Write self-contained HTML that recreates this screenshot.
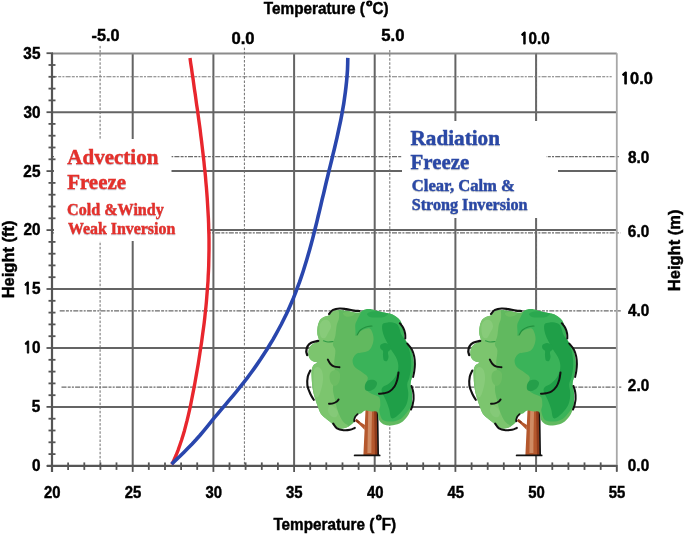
<!DOCTYPE html>
<html><head><meta charset="utf-8"><style>
html,body{margin:0;padding:0;background:#fff;}
body{width:685px;height:534px;overflow:hidden;}
svg{display:block;}
.g{stroke:#646464;stroke-width:2;}
.gt{stroke:#8c8c8c;stroke-width:1.8;}
.d{stroke:#6a6a6a;stroke-width:1.2;stroke-dasharray:5 1.2 3 1.2 2 1.2;}
.d10{stroke:#7a7a7a;stroke-width:1.1;}
.dv{stroke:#6e6e6e;stroke-width:1.0;stroke-dasharray:2.5 1.6;}
.ax{stroke:#555;stroke-width:2.2;}
.axr{stroke:#a8a8a8;stroke-width:1.8;}
.tk{stroke:#555;stroke-width:1.8;}
.one{font-family:NanumGothic,sans-serif !important;stroke-width:0.85px !important;}
.sup{stroke-width:0.95px !important;}
.lb{font-family:"Liberation Sans",Arial,sans-serif;font-weight:bold;fill:#000;stroke:#000;stroke-width:0.45px;}
.ann{font-family:"Liberation Serif","Times New Roman",serif;font-weight:bold;stroke-width:0.4px;}
.red{fill:#e5302b;stroke:#e5302b;filter:drop-shadow(0.8px 1px 0.7px rgba(90,120,150,0.35));}
.blue{fill:#2a48a6;stroke:#2a48a6;filter:drop-shadow(0.8px 1px 0.7px rgba(120,120,100,0.3));}
</style></head><body>
<svg width="685" height="534" viewBox="0 0 685 534">
<rect width="685" height="534" fill="#fff"/>
<line x1="132.7" y1="53.2" x2="132.7" y2="465.9" class="g"/>
<line x1="213.4" y1="53.2" x2="213.4" y2="465.9" class="g"/>
<line x1="294.1" y1="53.2" x2="294.1" y2="465.9" class="g"/>
<line x1="374.7" y1="53.2" x2="374.7" y2="465.9" class="g"/>
<line x1="455.4" y1="53.2" x2="455.4" y2="465.9" class="g"/>
<line x1="536.1" y1="53.2" x2="536.1" y2="465.9" class="g"/>
<line x1="52.0" y1="406.9" x2="616.8" y2="406.9" class="g"/>
<line x1="52.0" y1="348.0" x2="616.8" y2="348.0" class="g"/>
<line x1="52.0" y1="289.0" x2="616.8" y2="289.0" class="g"/>
<line x1="52.0" y1="230.1" x2="616.8" y2="230.1" class="g"/>
<line x1="52.0" y1="171.1" x2="616.8" y2="171.1" class="g"/>
<line x1="52.0" y1="112.2" x2="616.8" y2="112.2" class="g"/>
<line x1="52.0" y1="53.5" x2="616.8" y2="53.5" class="gt"/>
<line x1="100.1" y1="45.9" x2="100.1" y2="465.9" class="dv"/>
<line x1="244.4" y1="47.7" x2="244.4" y2="465.9" class="dv"/>
<line x1="389.8" y1="50.0" x2="389.8" y2="465.9" class="dv"/>
<line x1="536.2" y1="53.2" x2="536.2" y2="465.9" class="dv"/>
<line x1="61.5" y1="387.1" x2="621.3" y2="387.1" class="d"/>
<line x1="59.7" y1="310.8" x2="620.8" y2="310.8" class="d"/>
<line x1="52.0" y1="232.8" x2="620.3" y2="232.8" class="d"/>
<line x1="52.0" y1="156.6" x2="619.6" y2="156.6" class="d"/>
<line x1="52.0" y1="76.8" x2="611.7" y2="76.8" class="d d10"/>
<rect x="54" y="139" width="117.5" height="33" fill="#fff"/>
<rect x="54" y="172" width="155" height="69" fill="#fff"/>
<rect x="402" y="121" width="144.5" height="45" fill="#fff"/>
<rect x="402" y="166" width="156" height="52" fill="#fff"/>
<line x1="52.0" y1="53.2" x2="52.0" y2="471.9" class="ax"/>
<line x1="47.0" y1="465.9" x2="616.8" y2="465.9" class="ax"/>
<line x1="616.8" y1="53.2" x2="616.8" y2="470.9" class="axr"/>
<line x1="46.5" y1="465.9" x2="53.0" y2="465.9" class="tk"/>
<line x1="48.5" y1="454.1" x2="55.5" y2="454.1" class="tk"/>
<line x1="48.5" y1="442.3" x2="55.5" y2="442.3" class="tk"/>
<line x1="48.5" y1="430.5" x2="55.5" y2="430.5" class="tk"/>
<line x1="48.5" y1="418.7" x2="55.5" y2="418.7" class="tk"/>
<line x1="46.5" y1="406.9" x2="53.0" y2="406.9" class="tk"/>
<line x1="48.5" y1="395.2" x2="55.5" y2="395.2" class="tk"/>
<line x1="48.5" y1="383.4" x2="55.5" y2="383.4" class="tk"/>
<line x1="48.5" y1="371.6" x2="55.5" y2="371.6" class="tk"/>
<line x1="48.5" y1="359.8" x2="55.5" y2="359.8" class="tk"/>
<line x1="46.5" y1="348.0" x2="53.0" y2="348.0" class="tk"/>
<line x1="48.5" y1="336.2" x2="55.5" y2="336.2" class="tk"/>
<line x1="48.5" y1="324.4" x2="55.5" y2="324.4" class="tk"/>
<line x1="48.5" y1="312.6" x2="55.5" y2="312.6" class="tk"/>
<line x1="48.5" y1="300.8" x2="55.5" y2="300.8" class="tk"/>
<line x1="46.5" y1="289.0" x2="53.0" y2="289.0" class="tk"/>
<line x1="48.5" y1="277.2" x2="55.5" y2="277.2" class="tk"/>
<line x1="48.5" y1="265.4" x2="55.5" y2="265.4" class="tk"/>
<line x1="48.5" y1="253.7" x2="55.5" y2="253.7" class="tk"/>
<line x1="48.5" y1="241.9" x2="55.5" y2="241.9" class="tk"/>
<line x1="46.5" y1="230.1" x2="53.0" y2="230.1" class="tk"/>
<line x1="48.5" y1="218.3" x2="55.5" y2="218.3" class="tk"/>
<line x1="48.5" y1="206.5" x2="55.5" y2="206.5" class="tk"/>
<line x1="48.5" y1="194.7" x2="55.5" y2="194.7" class="tk"/>
<line x1="48.5" y1="182.9" x2="55.5" y2="182.9" class="tk"/>
<line x1="46.5" y1="171.1" x2="53.0" y2="171.1" class="tk"/>
<line x1="48.5" y1="159.3" x2="55.5" y2="159.3" class="tk"/>
<line x1="48.5" y1="147.5" x2="55.5" y2="147.5" class="tk"/>
<line x1="48.5" y1="135.7" x2="55.5" y2="135.7" class="tk"/>
<line x1="48.5" y1="123.9" x2="55.5" y2="123.9" class="tk"/>
<line x1="46.5" y1="112.2" x2="53.0" y2="112.2" class="tk"/>
<line x1="48.5" y1="100.4" x2="55.5" y2="100.4" class="tk"/>
<line x1="48.5" y1="88.6" x2="55.5" y2="88.6" class="tk"/>
<line x1="48.5" y1="76.8" x2="55.5" y2="76.8" class="tk"/>
<line x1="48.5" y1="65.0" x2="55.5" y2="65.0" class="tk"/>
<line x1="46.5" y1="53.2" x2="53.0" y2="53.2" class="tk"/>
<line x1="52.0" y1="464.9" x2="52.0" y2="471.9" class="tk"/>
<line x1="68.1" y1="462.4" x2="68.1" y2="469.9" class="tk"/>
<line x1="84.3" y1="462.4" x2="84.3" y2="469.9" class="tk"/>
<line x1="100.4" y1="462.4" x2="100.4" y2="469.9" class="tk"/>
<line x1="116.5" y1="462.4" x2="116.5" y2="469.9" class="tk"/>
<line x1="132.7" y1="464.9" x2="132.7" y2="471.9" class="tk"/>
<line x1="148.8" y1="462.4" x2="148.8" y2="469.9" class="tk"/>
<line x1="165.0" y1="462.4" x2="165.0" y2="469.9" class="tk"/>
<line x1="181.1" y1="462.4" x2="181.1" y2="469.9" class="tk"/>
<line x1="197.2" y1="462.4" x2="197.2" y2="469.9" class="tk"/>
<line x1="213.4" y1="464.9" x2="213.4" y2="471.9" class="tk"/>
<line x1="229.5" y1="462.4" x2="229.5" y2="469.9" class="tk"/>
<line x1="245.6" y1="462.4" x2="245.6" y2="469.9" class="tk"/>
<line x1="261.8" y1="462.4" x2="261.8" y2="469.9" class="tk"/>
<line x1="277.9" y1="462.4" x2="277.9" y2="469.9" class="tk"/>
<line x1="294.1" y1="464.9" x2="294.1" y2="471.9" class="tk"/>
<line x1="310.2" y1="462.4" x2="310.2" y2="469.9" class="tk"/>
<line x1="326.3" y1="462.4" x2="326.3" y2="469.9" class="tk"/>
<line x1="342.5" y1="462.4" x2="342.5" y2="469.9" class="tk"/>
<line x1="358.6" y1="462.4" x2="358.6" y2="469.9" class="tk"/>
<line x1="374.7" y1="464.9" x2="374.7" y2="471.9" class="tk"/>
<line x1="390.9" y1="462.4" x2="390.9" y2="469.9" class="tk"/>
<line x1="407.0" y1="462.4" x2="407.0" y2="469.9" class="tk"/>
<line x1="423.2" y1="462.4" x2="423.2" y2="469.9" class="tk"/>
<line x1="439.3" y1="462.4" x2="439.3" y2="469.9" class="tk"/>
<line x1="455.4" y1="464.9" x2="455.4" y2="471.9" class="tk"/>
<line x1="471.6" y1="462.4" x2="471.6" y2="469.9" class="tk"/>
<line x1="487.7" y1="462.4" x2="487.7" y2="469.9" class="tk"/>
<line x1="503.8" y1="462.4" x2="503.8" y2="469.9" class="tk"/>
<line x1="520.0" y1="462.4" x2="520.0" y2="469.9" class="tk"/>
<line x1="536.1" y1="464.9" x2="536.1" y2="471.9" class="tk"/>
<line x1="552.3" y1="462.4" x2="552.3" y2="469.9" class="tk"/>
<line x1="568.4" y1="462.4" x2="568.4" y2="469.9" class="tk"/>
<line x1="584.5" y1="462.4" x2="584.5" y2="469.9" class="tk"/>
<line x1="600.7" y1="462.4" x2="600.7" y2="469.9" class="tk"/>
<line x1="616.8" y1="464.9" x2="616.8" y2="471.9" class="tk"/>
<path d="M172.0,464.5 L174.1,459.8 L176.2,455.0 L178.1,450.1 L179.8,445.2 L181.5,440.3 L183.0,435.4 L184.5,430.4 L185.8,425.4 L187.1,420.4 L188.3,415.3 L189.5,410.2 L190.6,405.1 L191.6,400.0 L192.6,394.9 L193.6,389.8 L194.6,384.7 L195.5,379.5 L196.4,374.4 L197.3,369.2 L198.2,364.1 L199.0,358.9 L199.8,353.7 L200.6,348.6 L201.4,343.4 L202.1,338.2 L202.8,333.0 L203.5,327.9 L204.2,322.7 L204.8,317.5 L205.3,312.3 L205.9,307.1 L206.4,301.9 L206.8,296.7 L207.2,291.5 L207.6,286.3 L208.0,281.1 L208.2,275.9 L208.5,270.7 L208.7,265.5 L208.8,260.3 L208.9,255.1 L209.0,249.8 L209.0,244.6 L209.0,239.4 L208.9,234.2 L208.7,229.0 L208.6,223.8 L208.4,218.6 L208.1,213.4 L207.8,208.2 L207.5,203.0 L207.2,197.8 L206.8,192.6 L206.4,187.4 L205.9,182.2 L205.5,177.0 L205.0,171.8 L204.4,166.6 L203.9,161.4 L203.3,156.2 L202.7,151.0 L202.1,145.9 L201.5,140.7 L200.8,135.5 L200.2,130.3 L199.5,125.1 L198.8,119.9 L198.1,114.8 L197.4,109.6 L196.6,104.4 L195.9,99.3 L195.2,94.1 L194.4,88.9 L193.7,83.8 L193.0,78.6 L192.2,73.5 L191.5,68.3 L190.7,63.2 L190.0,58.0" fill="none" stroke="#e8262d" stroke-width="3.4" stroke-linejoin="round"/>
<path d="M171.5,464.1 L175.7,460.1 L179.9,456.2 L184.0,452.2 L188.1,448.1 L192.1,444.0 L196.0,439.8 L199.8,435.5 L203.5,431.1 L207.2,426.6 L210.8,422.2 L214.4,417.7 L218.1,413.3 L221.8,408.9 L225.5,404.6 L229.2,400.2 L232.9,395.8 L236.6,391.4 L240.2,386.9 L243.8,382.4 L247.3,377.9 L250.7,373.3 L254.1,368.6 L257.4,363.9 L260.7,359.1 L263.8,354.3 L266.9,349.5 L269.9,344.5 L272.9,339.6 L275.7,334.6 L278.5,329.5 L281.2,324.5 L283.8,319.3 L286.3,314.2 L288.7,308.9 L291.0,303.7 L293.3,298.4 L295.4,293.1 L297.4,287.7 L299.4,282.4 L301.3,276.9 L303.1,271.5 L304.8,266.0 L306.5,260.5 L308.1,255.0 L309.7,249.5 L311.2,244.0 L312.7,238.4 L314.1,232.8 L315.5,227.2 L316.9,221.6 L318.2,216.0 L319.6,210.4 L320.9,204.8 L322.2,199.2 L323.6,193.6 L324.9,188.0 L326.2,182.3 L327.6,176.7 L328.9,171.1 L330.3,165.6 L331.7,160.0 L333.0,154.4 L334.4,148.8 L335.7,143.2 L337.0,137.6 L338.2,132.0 L339.4,126.4 L340.6,120.8 L341.7,115.2 L342.7,109.5 L343.7,103.9 L344.5,98.2 L345.3,92.5 L346.0,86.8 L346.6,81.1 L347.1,75.3 L347.5,69.6 L347.7,63.8 L347.8,57.9" fill="none" stroke="#2946ad" stroke-width="3.6" stroke-linejoin="round"/>
<g class="ann red">
<text class="ann" font-size="21.00" transform="translate(67.24,163.90) scale(1.0022,1)">Advection</text>
<text class="ann" font-size="21.00" transform="translate(67.14,188.80) scale(0.9987,1)">Freeze</text>
<text class="ann" font-size="16.00" transform="translate(67.04,214.50) scale(1.0063,1)">Cold &amp;Windy</text>
<text class="ann" font-size="16.00" transform="translate(68.01,233.90) scale(0.9933,1)">Weak Inversion</text>
</g><g class="ann blue">
<text class="ann" font-size="21.00" transform="translate(410.53,144.70) scale(1.0081,1)">Radiation</text>
<text class="ann" font-size="21.00" transform="translate(410.54,169.10) scale(0.9953,1)">Freeze</text>
<text class="ann" font-size="16.00" transform="translate(411.82,190.50) scale(1.0374,1)">Clear, Calm &amp;</text>
<text class="ann" font-size="16.00" transform="translate(411.76,209.50) scale(1.0090,1)">Strong Inversion</text>
</g>
<clipPath id="c1"><path d="M328.5,315.5 C330.0,314.6 331.1,312.3 333.0,311.4 C334.9,310.5 337.5,310.1 339.7,310.0 C341.9,309.9 343.9,310.3 346.3,310.7 C348.7,311.1 351.8,311.9 354.0,312.2 C356.2,312.5 357.9,312.6 359.5,312.3 C361.1,312.0 361.9,310.8 363.4,310.3 C364.9,309.8 366.6,309.1 368.6,309.1 C370.6,309.1 372.8,309.8 375.2,310.4 C377.6,311.0 380.4,312.0 383.0,312.6 C385.6,313.2 388.8,313.3 391.0,314.0 C393.2,314.7 394.7,315.6 396.2,316.7 C397.7,317.8 399.2,319.1 400.2,320.6 C401.2,322.2 401.8,324.1 402.4,326.0 C403.0,327.9 403.5,330.0 403.8,332.0 C404.1,334.0 403.6,336.0 404.3,338.0 C405.0,340.0 406.8,341.8 408.0,344.0 C409.2,346.2 410.6,348.6 411.5,351.0 C412.4,353.4 412.8,355.8 413.2,358.5 C413.6,361.2 413.9,364.1 413.7,367.0 C413.5,369.9 412.7,373.2 412.2,376.0 C411.7,378.8 410.6,381.3 410.5,384.0 C410.4,386.7 411.6,389.3 411.8,392.0 C412.1,394.7 412.2,397.0 412.0,400.0 C411.8,403.0 411.7,406.8 410.6,409.9 C409.6,413.0 407.6,416.3 405.7,418.6 C403.8,420.9 402.0,422.4 399.5,423.5 C397.0,424.6 393.5,425.3 390.8,425.4 C388.1,425.5 385.3,425.1 383.3,424.2 C381.3,423.3 380.0,421.8 379.0,419.8 C378.0,417.8 378.3,413.4 377.1,412.0 C375.9,410.6 373.9,411.8 372.0,411.5 C370.1,411.2 367.2,410.2 365.4,410.5 C363.6,410.8 362.4,412.8 361.0,413.5 C359.6,414.2 358.4,413.8 357.3,414.5 C356.2,415.2 355.1,416.8 354.6,418.0 C354.1,419.2 355.2,420.3 354.2,421.7 C353.2,423.1 350.6,425.5 348.6,426.6 C346.6,427.7 344.5,428.4 342.4,428.5 C340.3,428.6 337.9,427.8 336.2,427.0 C334.5,426.2 333.5,424.8 332.0,423.5 C330.5,422.2 328.8,421.1 327.0,419.5 C325.2,417.9 322.5,416.1 321.0,414.0 C319.5,411.9 318.9,409.3 318.0,407.0 C317.1,404.7 316.2,402.3 315.5,400.0 C314.8,397.7 314.1,395.5 313.5,393.0 C312.9,390.5 312.5,387.8 312.2,385.0 C311.9,382.2 311.7,378.6 311.6,376.0 C311.5,373.4 311.5,371.3 311.8,369.5 C312.1,367.7 312.6,366.3 313.5,365.2 C314.4,364.1 317.6,363.2 317.5,362.6 C317.4,362.0 314.3,362.0 313.0,361.3 C311.7,360.6 310.4,359.5 309.6,358.3 C308.8,357.1 308.5,355.6 308.4,354.0 C308.3,352.4 308.4,350.5 308.9,349.0 C309.4,347.5 310.3,346.1 311.5,345.0 C312.7,343.9 314.8,343.2 316.0,342.5 C317.2,341.8 318.8,341.9 319.0,340.5 C319.2,339.1 317.6,336.2 317.4,334.0 C317.2,331.8 317.2,329.3 317.6,327.0 C318.0,324.7 318.9,321.7 320.0,320.0 C321.1,318.3 322.6,317.8 324.0,317.0 C325.4,316.2 327.0,316.4 328.5,315.5Z"/></clipPath>
<path d="M365.8,404 L377,403 L377.9,455 L363.4,455 C364.2,438 365,421 365.8,404 Z" fill="#b5582d"/>
<path d="M368.3,410 C368,425 367.6,440 367.4,453 L371.4,453 C371.4,440 371.7,425 372.1,408 Z" fill="#cf8c64"/>
<path d="M374,404 L377,403 L377.9,455 L375,455 Z" fill="#8f3b1b"/>
<path d="M364.6,430 C361.5,426.5 358.5,423.5 355,421 L356.5,419 C359.5,421.5 362.5,423.5 365,425 Z" fill="#b5582d"/>
<path d="M355,421 L356.5,419 C358,420.3 359,421 360,421.8 L358.5,423.6 Z" fill="#8f3b1b"/>
<g fill="none" stroke="#111" stroke-linecap="round"><path d="M377.4,400 L378.2,455.3" stroke-width="1.6"/><path d="M354.7,455.4 L379.6,455.4" stroke-width="1.9"/></g>
<path d="M328.5,315.5 C330.0,314.6 331.1,312.3 333.0,311.4 C334.9,310.5 337.5,310.1 339.7,310.0 C341.9,309.9 343.9,310.3 346.3,310.7 C348.7,311.1 351.8,311.9 354.0,312.2 C356.2,312.5 357.9,312.6 359.5,312.3 C361.1,312.0 361.9,310.8 363.4,310.3 C364.9,309.8 366.6,309.1 368.6,309.1 C370.6,309.1 372.8,309.8 375.2,310.4 C377.6,311.0 380.4,312.0 383.0,312.6 C385.6,313.2 388.8,313.3 391.0,314.0 C393.2,314.7 394.7,315.6 396.2,316.7 C397.7,317.8 399.2,319.1 400.2,320.6 C401.2,322.2 401.8,324.1 402.4,326.0 C403.0,327.9 403.5,330.0 403.8,332.0 C404.1,334.0 403.6,336.0 404.3,338.0 C405.0,340.0 406.8,341.8 408.0,344.0 C409.2,346.2 410.6,348.6 411.5,351.0 C412.4,353.4 412.8,355.8 413.2,358.5 C413.6,361.2 413.9,364.1 413.7,367.0 C413.5,369.9 412.7,373.2 412.2,376.0 C411.7,378.8 410.6,381.3 410.5,384.0 C410.4,386.7 411.6,389.3 411.8,392.0 C412.1,394.7 412.2,397.0 412.0,400.0 C411.8,403.0 411.7,406.8 410.6,409.9 C409.6,413.0 407.6,416.3 405.7,418.6 C403.8,420.9 402.0,422.4 399.5,423.5 C397.0,424.6 393.5,425.3 390.8,425.4 C388.1,425.5 385.3,425.1 383.3,424.2 C381.3,423.3 380.0,421.8 379.0,419.8 C378.0,417.8 378.3,413.4 377.1,412.0 C375.9,410.6 373.9,411.8 372.0,411.5 C370.1,411.2 367.2,410.2 365.4,410.5 C363.6,410.8 362.4,412.8 361.0,413.5 C359.6,414.2 358.4,413.8 357.3,414.5 C356.2,415.2 355.1,416.8 354.6,418.0 C354.1,419.2 355.2,420.3 354.2,421.7 C353.2,423.1 350.6,425.5 348.6,426.6 C346.6,427.7 344.5,428.4 342.4,428.5 C340.3,428.6 337.9,427.8 336.2,427.0 C334.5,426.2 333.5,424.8 332.0,423.5 C330.5,422.2 328.8,421.1 327.0,419.5 C325.2,417.9 322.5,416.1 321.0,414.0 C319.5,411.9 318.9,409.3 318.0,407.0 C317.1,404.7 316.2,402.3 315.5,400.0 C314.8,397.7 314.1,395.5 313.5,393.0 C312.9,390.5 312.5,387.8 312.2,385.0 C311.9,382.2 311.7,378.6 311.6,376.0 C311.5,373.4 311.5,371.3 311.8,369.5 C312.1,367.7 312.6,366.3 313.5,365.2 C314.4,364.1 317.6,363.2 317.5,362.6 C317.4,362.0 314.3,362.0 313.0,361.3 C311.7,360.6 310.4,359.5 309.6,358.3 C308.8,357.1 308.5,355.6 308.4,354.0 C308.3,352.4 308.4,350.5 308.9,349.0 C309.4,347.5 310.3,346.1 311.5,345.0 C312.7,343.9 314.8,343.2 316.0,342.5 C317.2,341.8 318.8,341.9 319.0,340.5 C319.2,339.1 317.6,336.2 317.4,334.0 C317.2,331.8 317.2,329.3 317.6,327.0 C318.0,324.7 318.9,321.7 320.0,320.0 C321.1,318.3 322.6,317.8 324.0,317.0 C325.4,316.2 327.0,316.4 328.5,315.5Z" fill="#61b95f"/>
<g clip-path="url(#c1)">
<path d="M323.0,316.5 C326.4,315.4 327.9,312.5 330.4,311.4 C332.9,310.2 336.6,308.5 338.0,309.6 C339.4,310.7 339.2,315.4 339.0,318.0 C338.8,320.6 337.3,322.4 336.7,325.3 C336.1,328.2 336.0,332.2 335.4,335.4 C334.8,338.6 332.9,341.8 332.9,344.3 C332.9,346.8 335.2,347.4 335.4,350.6 C335.6,353.8 334.2,359.1 334.2,363.3 C334.2,367.5 335.6,371.8 335.4,376.0 C335.2,380.2 332.9,384.4 332.9,388.6 C332.9,392.8 334.5,397.5 335.4,401.3 C336.2,405.1 336.7,408.0 338.0,411.4 C339.3,414.8 340.9,418.7 343.0,421.5 C345.1,424.3 350.4,426.2 350.6,428.0 C350.8,429.8 347.7,431.7 344.3,432.0 C340.9,432.3 336.6,432.0 330.0,430.0 C323.4,428.0 310.0,428.3 305.0,420.0 C300.0,411.7 300.5,393.3 300.0,380.0 C299.5,366.7 300.3,350.3 302.0,340.0 C303.7,329.7 306.5,321.9 310.0,318.0 C313.5,314.1 319.6,317.6 323.0,316.5Z" fill="#7cc56e"/>
<path d="M363.2,309.3 C361.1,311.8 358.5,317.3 357.2,319.9 C355.9,322.5 355.6,322.8 355.3,324.7 C355.0,326.6 355.4,329.1 355.5,331.0 C355.6,332.9 355.3,335.7 355.6,336.0 C355.9,336.3 356.3,334.0 357.5,333.0 C358.7,332.0 361.0,330.6 363.0,329.8 C365.0,329.0 367.7,327.8 369.3,328.3 C370.9,328.8 371.8,331.1 372.5,333.0 C373.2,334.9 373.7,337.7 373.5,340.0 C373.3,342.3 372.4,345.2 371.5,347.0 C370.6,348.8 369.6,350.1 368.0,351.0 C366.4,351.9 363.8,352.2 362.0,352.6 C360.2,353.0 358.4,352.9 357.0,353.6 C355.6,354.3 354.5,355.8 353.8,357.0 C353.1,358.2 352.5,359.4 352.6,361.0 C352.7,362.6 353.0,364.8 354.6,366.7 C356.2,368.6 360.3,370.7 362.5,372.4 C364.7,374.1 366.9,375.2 367.6,376.9 C368.3,378.6 367.1,380.4 366.8,382.5 C366.5,384.6 365.2,387.3 366.0,389.2 C366.8,391.1 369.3,392.4 371.5,393.7 C373.7,395.0 377.5,395.1 379.0,397.0 C380.5,398.9 380.2,402.7 380.3,405.0 C380.4,407.3 378.9,408.5 379.3,411.0 C379.8,413.5 380.7,418.2 383.0,420.0 C385.3,421.8 390.1,421.7 393.0,421.5 C395.9,421.3 398.5,420.2 400.6,419.0 C402.7,417.8 403.8,416.1 405.6,414.0 C407.4,411.9 408.8,410.3 411.2,406.3 C413.6,402.3 418.5,401.1 420.0,390.0 C421.5,378.9 422.5,353.0 420.0,340.0 C417.5,327.0 410.0,317.7 405.0,312.0 C400.0,306.3 395.8,307.2 390.0,306.0 C384.2,304.8 374.5,304.4 370.0,305.0 C365.5,305.6 365.3,306.8 363.2,309.3Z" fill="#3ab359"/>
<path d="M382.4,324.6 C383.1,322.5 385.8,322.6 388.0,322.4 C390.2,322.2 394.0,322.6 395.9,323.5 C397.8,324.4 398.4,326.1 399.3,328.0 C400.2,329.9 400.2,332.2 401.5,334.8 C402.8,337.4 405.7,340.4 407.2,343.8 C408.7,347.2 409.8,351.2 410.5,355.0 C411.2,358.8 411.4,362.5 411.2,366.3 C411.0,370.1 410.1,374.6 409.4,377.6 C408.7,380.6 407.4,381.7 407.2,384.3 C407.0,386.9 408.3,390.3 408.3,393.3 C408.3,396.3 407.9,399.7 407.2,402.3 C406.4,404.9 405.5,406.7 403.8,409.0 C402.1,411.3 399.1,414.4 397.0,415.9 C394.9,417.4 392.7,419.2 391.4,418.1 C390.1,417.0 390.0,412.1 389.1,409.1 C388.2,406.1 387.1,403.1 385.8,400.1 C384.6,397.1 382.0,393.4 381.6,391.1 C381.2,388.9 382.4,387.7 383.5,386.6 C384.6,385.5 386.1,385.8 388.0,384.3 C389.9,382.8 393.1,380.2 394.8,377.6 C396.5,375.0 397.8,371.6 398.2,368.6 C398.6,365.6 398.3,362.9 397.0,359.5 C395.7,356.1 392.6,352.4 390.3,348.3 C388.1,344.2 384.8,338.8 383.5,334.8 C382.2,330.9 381.6,326.7 382.4,324.6Z" fill="#1f9f48"/>
<path d="M380.5,345.0 C381.2,344.1 383.4,343.0 385.0,343.0 C386.6,343.0 389.0,344.0 390.0,345.0 C391.0,346.0 391.3,347.8 391.0,349.0 C390.7,350.2 388.4,350.7 388.0,352.0 C387.6,353.3 388.7,355.5 388.5,357.0 C388.3,358.5 387.8,360.4 387.0,361.0 C386.2,361.6 384.7,361.3 384.0,360.5 C383.3,359.7 383.2,357.6 383.0,356.0 C382.8,354.4 383.4,352.2 383.0,351.0 C382.6,349.8 380.9,349.5 380.5,348.5 C380.1,347.5 379.8,345.9 380.5,345.0Z" fill="#1f9f48"/>
<path d="M365.0,385.0 C365.4,383.4 366.5,381.3 368.0,380.5 C369.5,379.7 372.5,379.6 374.0,380.0 C375.5,380.4 376.8,381.7 377.0,383.0 C377.2,384.3 376.2,386.7 375.0,388.0 C373.8,389.3 371.6,390.7 370.0,391.0 C368.4,391.3 366.3,391.0 365.5,390.0 C364.7,389.0 364.6,386.6 365.0,385.0Z" fill="#259f4a"/>
<path d="M367.0,314.0 C367.3,313.1 369.8,312.0 372.0,311.5 C374.2,311.0 377.3,310.7 380.0,311.0 C382.7,311.3 387.3,312.5 388.0,313.5 C388.7,314.5 386.0,316.3 384.0,317.0 C382.0,317.7 378.3,317.5 376.0,317.5 C373.7,317.5 371.5,317.6 370.0,317.0 C368.5,316.4 366.7,314.9 367.0,314.0Z" fill="#2aa84f"/>
<path d="M343.0,313.0 C343.7,312.2 348.0,311.5 350.0,311.5 C352.0,311.5 354.7,312.2 355.0,313.0 C355.3,313.8 353.5,315.4 352.0,316.0 C350.5,316.6 347.5,317.0 346.0,316.5 C344.5,316.0 342.3,313.8 343.0,313.0Z" fill="#6dbf63"/>
<path d="M320.0,324.0 C320.8,322.2 322.5,320.5 324.0,320.0 C325.5,319.5 327.8,319.8 329.0,321.0 C330.2,322.2 331.2,325.0 331.0,327.0 C330.8,329.0 329.0,331.2 328.0,333.0 C327.0,334.8 326.2,337.3 325.0,338.0 C323.8,338.7 321.9,338.2 321.0,337.0 C320.1,335.8 319.7,333.2 319.5,331.0 C319.3,328.8 319.2,325.8 320.0,324.0Z" fill="#88cb7a"/>
<path d="M314.0,370.0 C314.8,367.0 316.7,366.8 318.0,367.0 C319.3,367.2 321.2,368.8 322.0,371.0 C322.8,373.2 323.2,376.8 323.0,380.0 C322.8,383.2 321.8,387.2 321.0,390.0 C320.2,392.8 319.0,396.2 318.0,397.0 C317.0,397.8 315.8,397.0 315.0,395.0 C314.2,393.0 313.7,389.2 313.5,385.0 C313.3,380.8 313.2,373.0 314.0,370.0Z" fill="#88cb7a"/>
<path d="M330.0,405.0 C331.0,404.3 332.7,405.8 334.0,407.0 C335.3,408.2 337.7,410.3 338.0,412.0 C338.3,413.7 337.2,416.3 336.0,417.0 C334.8,417.7 332.3,417.0 331.0,416.0 C329.7,415.0 328.2,412.8 328.0,411.0 C327.8,409.2 329.0,405.7 330.0,405.0Z" fill="#85c978"/>
<path d="M331.0,372.0 C332.1,370.8 334.5,369.7 336.0,370.0 C337.5,370.3 339.5,372.0 340.0,374.0 C340.5,376.0 339.8,380.0 339.0,382.0 C338.2,384.0 336.3,385.8 335.0,386.0 C333.7,386.2 331.9,384.5 331.0,383.0 C330.1,381.5 329.5,378.8 329.5,377.0 C329.5,375.2 329.9,373.2 331.0,372.0Z" fill="#6cbd63"/>
</g>
<g fill="none" stroke="#111" stroke-linecap="round">
<path d="M329.0,314.0 C329.7,313.3 331.2,310.8 333.0,309.9 C334.8,309.0 337.5,308.6 339.7,308.5 C341.9,308.4 343.9,308.8 346.3,309.1 C348.7,309.5 351.8,310.3 354.0,310.6 C356.2,310.9 358.5,310.9 359.4,311.0" stroke-width="2.1"/>
<path d="M399.8,323.2 C400.4,324.0 402.4,326.3 403.3,328.0 C404.2,329.7 404.8,331.8 405.1,333.5 C405.4,335.2 405.3,337.7 405.3,338.5" stroke-width="2.0"/>
<path d="M407.2,343.5 C408.0,344.5 410.6,347.3 411.8,349.5 C413.0,351.7 413.7,354.1 414.2,356.5 C414.7,358.9 414.9,361.6 414.9,364.0 C414.9,366.4 414.6,368.8 414.3,371.0 C414.0,373.2 413.3,376.0 413.1,377.0" stroke-width="2.0"/>
<path d="M411.5,386.0 C411.8,387.0 412.8,389.8 413.2,392.0 C413.6,394.2 413.7,396.8 413.6,399.0 C413.5,401.2 413.0,403.2 412.6,405.0 C412.2,406.8 411.3,408.8 411.0,409.5" stroke-width="2.0"/>
<path d="M318.2,340.9 C317.0,341.2 313.0,341.9 311.2,342.8 C309.4,343.7 308.2,345.1 307.4,346.5 C306.6,347.9 306.3,350.1 306.3,351.5 C306.3,352.9 307.1,354.4 307.2,355.0" stroke-width="2.3"/>
<path d="M310.3,370.5 C309.9,371.5 308.3,374.0 307.8,376.5 C307.3,379.0 307.0,382.6 307.4,385.5 C307.8,388.4 309.3,391.6 310.4,394.0 C311.5,396.4 313.2,398.8 313.8,399.8" stroke-width="2.1"/>
<path d="M333.2,423.6 C333.8,424.4 335.3,427.3 337.0,428.4 C338.7,429.5 341.3,430.0 343.5,430.2 C345.7,430.4 348.1,430.2 350.0,429.8 C351.9,429.4 354.0,428.2 354.8,427.9" stroke-width="2.1"/>
<path d="M357.6,414.1 C357.2,414.5 355.9,415.7 355.3,416.6 C354.8,417.5 354.5,418.7 354.3,419.5 C354.1,420.3 354.2,421.0 354.2,421.3" stroke-width="1.8"/>
<path d="M327.8,359.5 C328.2,360.2 329.4,362.8 330.5,364.0 C331.6,365.2 333.0,366.1 334.5,366.6 C336.0,367.1 338.7,367.1 339.5,367.2" stroke-width="1.9"/>
<path d="M329.0,403.8 C329.7,403.7 331.8,403.7 333.0,403.4 C334.2,403.1 335.6,402.4 336.5,401.8 C337.4,401.2 338.2,399.9 338.6,399.5" stroke-width="1.9"/>
<path d="M398.5,372.5 C398.3,373.8 397.9,377.7 397.2,380.0 C396.5,382.3 395.8,384.6 394.5,386.5 C393.2,388.4 391.2,390.4 389.5,391.5 C387.8,392.6 385.8,392.9 384.0,393.3 C382.2,393.7 379.8,393.6 379.0,393.7" stroke-width="2.0"/>
</g>
<g fill="none" stroke-linecap="round">
<path d="M323.5,340.8 C324.2,341.0 326.4,341.9 328.0,342.0 C329.6,342.1 332.2,341.6 333.0,341.5" stroke="#2f9a45" stroke-width="1.1"/>
<path d="M357.0,335.0 C357.6,334.2 359.0,331.3 360.5,330.0 C362.0,328.7 364.1,327.7 366.0,327.0 C367.9,326.3 371.0,326.2 372.0,326.0" stroke="#23903e" stroke-width="1.2"/>
</g>
<g transform="translate(162,0)"><clipPath id="c2"><path d="M328.5,315.5 C330.0,314.6 331.1,312.3 333.0,311.4 C334.9,310.5 337.5,310.1 339.7,310.0 C341.9,309.9 343.9,310.3 346.3,310.7 C348.7,311.1 351.8,311.9 354.0,312.2 C356.2,312.5 357.9,312.6 359.5,312.3 C361.1,312.0 361.9,310.8 363.4,310.3 C364.9,309.8 366.6,309.1 368.6,309.1 C370.6,309.1 372.8,309.8 375.2,310.4 C377.6,311.0 380.4,312.0 383.0,312.6 C385.6,313.2 388.8,313.3 391.0,314.0 C393.2,314.7 394.7,315.6 396.2,316.7 C397.7,317.8 399.2,319.1 400.2,320.6 C401.2,322.2 401.8,324.1 402.4,326.0 C403.0,327.9 403.5,330.0 403.8,332.0 C404.1,334.0 403.6,336.0 404.3,338.0 C405.0,340.0 406.8,341.8 408.0,344.0 C409.2,346.2 410.6,348.6 411.5,351.0 C412.4,353.4 412.8,355.8 413.2,358.5 C413.6,361.2 413.9,364.1 413.7,367.0 C413.5,369.9 412.7,373.2 412.2,376.0 C411.7,378.8 410.6,381.3 410.5,384.0 C410.4,386.7 411.6,389.3 411.8,392.0 C412.1,394.7 412.2,397.0 412.0,400.0 C411.8,403.0 411.7,406.8 410.6,409.9 C409.6,413.0 407.6,416.3 405.7,418.6 C403.8,420.9 402.0,422.4 399.5,423.5 C397.0,424.6 393.5,425.3 390.8,425.4 C388.1,425.5 385.3,425.1 383.3,424.2 C381.3,423.3 380.0,421.8 379.0,419.8 C378.0,417.8 378.3,413.4 377.1,412.0 C375.9,410.6 373.9,411.8 372.0,411.5 C370.1,411.2 367.2,410.2 365.4,410.5 C363.6,410.8 362.4,412.8 361.0,413.5 C359.6,414.2 358.4,413.8 357.3,414.5 C356.2,415.2 355.1,416.8 354.6,418.0 C354.1,419.2 355.2,420.3 354.2,421.7 C353.2,423.1 350.6,425.5 348.6,426.6 C346.6,427.7 344.5,428.4 342.4,428.5 C340.3,428.6 337.9,427.8 336.2,427.0 C334.5,426.2 333.5,424.8 332.0,423.5 C330.5,422.2 328.8,421.1 327.0,419.5 C325.2,417.9 322.5,416.1 321.0,414.0 C319.5,411.9 318.9,409.3 318.0,407.0 C317.1,404.7 316.2,402.3 315.5,400.0 C314.8,397.7 314.1,395.5 313.5,393.0 C312.9,390.5 312.5,387.8 312.2,385.0 C311.9,382.2 311.7,378.6 311.6,376.0 C311.5,373.4 311.5,371.3 311.8,369.5 C312.1,367.7 312.6,366.3 313.5,365.2 C314.4,364.1 317.6,363.2 317.5,362.6 C317.4,362.0 314.3,362.0 313.0,361.3 C311.7,360.6 310.4,359.5 309.6,358.3 C308.8,357.1 308.5,355.6 308.4,354.0 C308.3,352.4 308.4,350.5 308.9,349.0 C309.4,347.5 310.3,346.1 311.5,345.0 C312.7,343.9 314.8,343.2 316.0,342.5 C317.2,341.8 318.8,341.9 319.0,340.5 C319.2,339.1 317.6,336.2 317.4,334.0 C317.2,331.8 317.2,329.3 317.6,327.0 C318.0,324.7 318.9,321.7 320.0,320.0 C321.1,318.3 322.6,317.8 324.0,317.0 C325.4,316.2 327.0,316.4 328.5,315.5Z"/></clipPath>
<path d="M365.8,404 L377,403 L377.9,455 L363.4,455 C364.2,438 365,421 365.8,404 Z" fill="#b5582d"/>
<path d="M368.3,410 C368,425 367.6,440 367.4,453 L371.4,453 C371.4,440 371.7,425 372.1,408 Z" fill="#cf8c64"/>
<path d="M374,404 L377,403 L377.9,455 L375,455 Z" fill="#8f3b1b"/>
<path d="M364.6,430 C361.5,426.5 358.5,423.5 355,421 L356.5,419 C359.5,421.5 362.5,423.5 365,425 Z" fill="#b5582d"/>
<path d="M355,421 L356.5,419 C358,420.3 359,421 360,421.8 L358.5,423.6 Z" fill="#8f3b1b"/>
<g fill="none" stroke="#111" stroke-linecap="round"><path d="M377.4,400 L378.2,455.3" stroke-width="1.6"/><path d="M354.7,455.4 L379.6,455.4" stroke-width="1.9"/></g>
<path d="M328.5,315.5 C330.0,314.6 331.1,312.3 333.0,311.4 C334.9,310.5 337.5,310.1 339.7,310.0 C341.9,309.9 343.9,310.3 346.3,310.7 C348.7,311.1 351.8,311.9 354.0,312.2 C356.2,312.5 357.9,312.6 359.5,312.3 C361.1,312.0 361.9,310.8 363.4,310.3 C364.9,309.8 366.6,309.1 368.6,309.1 C370.6,309.1 372.8,309.8 375.2,310.4 C377.6,311.0 380.4,312.0 383.0,312.6 C385.6,313.2 388.8,313.3 391.0,314.0 C393.2,314.7 394.7,315.6 396.2,316.7 C397.7,317.8 399.2,319.1 400.2,320.6 C401.2,322.2 401.8,324.1 402.4,326.0 C403.0,327.9 403.5,330.0 403.8,332.0 C404.1,334.0 403.6,336.0 404.3,338.0 C405.0,340.0 406.8,341.8 408.0,344.0 C409.2,346.2 410.6,348.6 411.5,351.0 C412.4,353.4 412.8,355.8 413.2,358.5 C413.6,361.2 413.9,364.1 413.7,367.0 C413.5,369.9 412.7,373.2 412.2,376.0 C411.7,378.8 410.6,381.3 410.5,384.0 C410.4,386.7 411.6,389.3 411.8,392.0 C412.1,394.7 412.2,397.0 412.0,400.0 C411.8,403.0 411.7,406.8 410.6,409.9 C409.6,413.0 407.6,416.3 405.7,418.6 C403.8,420.9 402.0,422.4 399.5,423.5 C397.0,424.6 393.5,425.3 390.8,425.4 C388.1,425.5 385.3,425.1 383.3,424.2 C381.3,423.3 380.0,421.8 379.0,419.8 C378.0,417.8 378.3,413.4 377.1,412.0 C375.9,410.6 373.9,411.8 372.0,411.5 C370.1,411.2 367.2,410.2 365.4,410.5 C363.6,410.8 362.4,412.8 361.0,413.5 C359.6,414.2 358.4,413.8 357.3,414.5 C356.2,415.2 355.1,416.8 354.6,418.0 C354.1,419.2 355.2,420.3 354.2,421.7 C353.2,423.1 350.6,425.5 348.6,426.6 C346.6,427.7 344.5,428.4 342.4,428.5 C340.3,428.6 337.9,427.8 336.2,427.0 C334.5,426.2 333.5,424.8 332.0,423.5 C330.5,422.2 328.8,421.1 327.0,419.5 C325.2,417.9 322.5,416.1 321.0,414.0 C319.5,411.9 318.9,409.3 318.0,407.0 C317.1,404.7 316.2,402.3 315.5,400.0 C314.8,397.7 314.1,395.5 313.5,393.0 C312.9,390.5 312.5,387.8 312.2,385.0 C311.9,382.2 311.7,378.6 311.6,376.0 C311.5,373.4 311.5,371.3 311.8,369.5 C312.1,367.7 312.6,366.3 313.5,365.2 C314.4,364.1 317.6,363.2 317.5,362.6 C317.4,362.0 314.3,362.0 313.0,361.3 C311.7,360.6 310.4,359.5 309.6,358.3 C308.8,357.1 308.5,355.6 308.4,354.0 C308.3,352.4 308.4,350.5 308.9,349.0 C309.4,347.5 310.3,346.1 311.5,345.0 C312.7,343.9 314.8,343.2 316.0,342.5 C317.2,341.8 318.8,341.9 319.0,340.5 C319.2,339.1 317.6,336.2 317.4,334.0 C317.2,331.8 317.2,329.3 317.6,327.0 C318.0,324.7 318.9,321.7 320.0,320.0 C321.1,318.3 322.6,317.8 324.0,317.0 C325.4,316.2 327.0,316.4 328.5,315.5Z" fill="#61b95f"/>
<g clip-path="url(#c2)">
<path d="M323.0,316.5 C326.4,315.4 327.9,312.5 330.4,311.4 C332.9,310.2 336.6,308.5 338.0,309.6 C339.4,310.7 339.2,315.4 339.0,318.0 C338.8,320.6 337.3,322.4 336.7,325.3 C336.1,328.2 336.0,332.2 335.4,335.4 C334.8,338.6 332.9,341.8 332.9,344.3 C332.9,346.8 335.2,347.4 335.4,350.6 C335.6,353.8 334.2,359.1 334.2,363.3 C334.2,367.5 335.6,371.8 335.4,376.0 C335.2,380.2 332.9,384.4 332.9,388.6 C332.9,392.8 334.5,397.5 335.4,401.3 C336.2,405.1 336.7,408.0 338.0,411.4 C339.3,414.8 340.9,418.7 343.0,421.5 C345.1,424.3 350.4,426.2 350.6,428.0 C350.8,429.8 347.7,431.7 344.3,432.0 C340.9,432.3 336.6,432.0 330.0,430.0 C323.4,428.0 310.0,428.3 305.0,420.0 C300.0,411.7 300.5,393.3 300.0,380.0 C299.5,366.7 300.3,350.3 302.0,340.0 C303.7,329.7 306.5,321.9 310.0,318.0 C313.5,314.1 319.6,317.6 323.0,316.5Z" fill="#7cc56e"/>
<path d="M363.2,309.3 C361.1,311.8 358.5,317.3 357.2,319.9 C355.9,322.5 355.6,322.8 355.3,324.7 C355.0,326.6 355.4,329.1 355.5,331.0 C355.6,332.9 355.3,335.7 355.6,336.0 C355.9,336.3 356.3,334.0 357.5,333.0 C358.7,332.0 361.0,330.6 363.0,329.8 C365.0,329.0 367.7,327.8 369.3,328.3 C370.9,328.8 371.8,331.1 372.5,333.0 C373.2,334.9 373.7,337.7 373.5,340.0 C373.3,342.3 372.4,345.2 371.5,347.0 C370.6,348.8 369.6,350.1 368.0,351.0 C366.4,351.9 363.8,352.2 362.0,352.6 C360.2,353.0 358.4,352.9 357.0,353.6 C355.6,354.3 354.5,355.8 353.8,357.0 C353.1,358.2 352.5,359.4 352.6,361.0 C352.7,362.6 353.0,364.8 354.6,366.7 C356.2,368.6 360.3,370.7 362.5,372.4 C364.7,374.1 366.9,375.2 367.6,376.9 C368.3,378.6 367.1,380.4 366.8,382.5 C366.5,384.6 365.2,387.3 366.0,389.2 C366.8,391.1 369.3,392.4 371.5,393.7 C373.7,395.0 377.5,395.1 379.0,397.0 C380.5,398.9 380.2,402.7 380.3,405.0 C380.4,407.3 378.9,408.5 379.3,411.0 C379.8,413.5 380.7,418.2 383.0,420.0 C385.3,421.8 390.1,421.7 393.0,421.5 C395.9,421.3 398.5,420.2 400.6,419.0 C402.7,417.8 403.8,416.1 405.6,414.0 C407.4,411.9 408.8,410.3 411.2,406.3 C413.6,402.3 418.5,401.1 420.0,390.0 C421.5,378.9 422.5,353.0 420.0,340.0 C417.5,327.0 410.0,317.7 405.0,312.0 C400.0,306.3 395.8,307.2 390.0,306.0 C384.2,304.8 374.5,304.4 370.0,305.0 C365.5,305.6 365.3,306.8 363.2,309.3Z" fill="#3ab359"/>
<path d="M382.4,324.6 C383.1,322.5 385.8,322.6 388.0,322.4 C390.2,322.2 394.0,322.6 395.9,323.5 C397.8,324.4 398.4,326.1 399.3,328.0 C400.2,329.9 400.2,332.2 401.5,334.8 C402.8,337.4 405.7,340.4 407.2,343.8 C408.7,347.2 409.8,351.2 410.5,355.0 C411.2,358.8 411.4,362.5 411.2,366.3 C411.0,370.1 410.1,374.6 409.4,377.6 C408.7,380.6 407.4,381.7 407.2,384.3 C407.0,386.9 408.3,390.3 408.3,393.3 C408.3,396.3 407.9,399.7 407.2,402.3 C406.4,404.9 405.5,406.7 403.8,409.0 C402.1,411.3 399.1,414.4 397.0,415.9 C394.9,417.4 392.7,419.2 391.4,418.1 C390.1,417.0 390.0,412.1 389.1,409.1 C388.2,406.1 387.1,403.1 385.8,400.1 C384.6,397.1 382.0,393.4 381.6,391.1 C381.2,388.9 382.4,387.7 383.5,386.6 C384.6,385.5 386.1,385.8 388.0,384.3 C389.9,382.8 393.1,380.2 394.8,377.6 C396.5,375.0 397.8,371.6 398.2,368.6 C398.6,365.6 398.3,362.9 397.0,359.5 C395.7,356.1 392.6,352.4 390.3,348.3 C388.1,344.2 384.8,338.8 383.5,334.8 C382.2,330.9 381.6,326.7 382.4,324.6Z" fill="#1f9f48"/>
<path d="M380.5,345.0 C381.2,344.1 383.4,343.0 385.0,343.0 C386.6,343.0 389.0,344.0 390.0,345.0 C391.0,346.0 391.3,347.8 391.0,349.0 C390.7,350.2 388.4,350.7 388.0,352.0 C387.6,353.3 388.7,355.5 388.5,357.0 C388.3,358.5 387.8,360.4 387.0,361.0 C386.2,361.6 384.7,361.3 384.0,360.5 C383.3,359.7 383.2,357.6 383.0,356.0 C382.8,354.4 383.4,352.2 383.0,351.0 C382.6,349.8 380.9,349.5 380.5,348.5 C380.1,347.5 379.8,345.9 380.5,345.0Z" fill="#1f9f48"/>
<path d="M365.0,385.0 C365.4,383.4 366.5,381.3 368.0,380.5 C369.5,379.7 372.5,379.6 374.0,380.0 C375.5,380.4 376.8,381.7 377.0,383.0 C377.2,384.3 376.2,386.7 375.0,388.0 C373.8,389.3 371.6,390.7 370.0,391.0 C368.4,391.3 366.3,391.0 365.5,390.0 C364.7,389.0 364.6,386.6 365.0,385.0Z" fill="#259f4a"/>
<path d="M367.0,314.0 C367.3,313.1 369.8,312.0 372.0,311.5 C374.2,311.0 377.3,310.7 380.0,311.0 C382.7,311.3 387.3,312.5 388.0,313.5 C388.7,314.5 386.0,316.3 384.0,317.0 C382.0,317.7 378.3,317.5 376.0,317.5 C373.7,317.5 371.5,317.6 370.0,317.0 C368.5,316.4 366.7,314.9 367.0,314.0Z" fill="#2aa84f"/>
<path d="M343.0,313.0 C343.7,312.2 348.0,311.5 350.0,311.5 C352.0,311.5 354.7,312.2 355.0,313.0 C355.3,313.8 353.5,315.4 352.0,316.0 C350.5,316.6 347.5,317.0 346.0,316.5 C344.5,316.0 342.3,313.8 343.0,313.0Z" fill="#6dbf63"/>
<path d="M320.0,324.0 C320.8,322.2 322.5,320.5 324.0,320.0 C325.5,319.5 327.8,319.8 329.0,321.0 C330.2,322.2 331.2,325.0 331.0,327.0 C330.8,329.0 329.0,331.2 328.0,333.0 C327.0,334.8 326.2,337.3 325.0,338.0 C323.8,338.7 321.9,338.2 321.0,337.0 C320.1,335.8 319.7,333.2 319.5,331.0 C319.3,328.8 319.2,325.8 320.0,324.0Z" fill="#88cb7a"/>
<path d="M314.0,370.0 C314.8,367.0 316.7,366.8 318.0,367.0 C319.3,367.2 321.2,368.8 322.0,371.0 C322.8,373.2 323.2,376.8 323.0,380.0 C322.8,383.2 321.8,387.2 321.0,390.0 C320.2,392.8 319.0,396.2 318.0,397.0 C317.0,397.8 315.8,397.0 315.0,395.0 C314.2,393.0 313.7,389.2 313.5,385.0 C313.3,380.8 313.2,373.0 314.0,370.0Z" fill="#88cb7a"/>
<path d="M330.0,405.0 C331.0,404.3 332.7,405.8 334.0,407.0 C335.3,408.2 337.7,410.3 338.0,412.0 C338.3,413.7 337.2,416.3 336.0,417.0 C334.8,417.7 332.3,417.0 331.0,416.0 C329.7,415.0 328.2,412.8 328.0,411.0 C327.8,409.2 329.0,405.7 330.0,405.0Z" fill="#85c978"/>
<path d="M331.0,372.0 C332.1,370.8 334.5,369.7 336.0,370.0 C337.5,370.3 339.5,372.0 340.0,374.0 C340.5,376.0 339.8,380.0 339.0,382.0 C338.2,384.0 336.3,385.8 335.0,386.0 C333.7,386.2 331.9,384.5 331.0,383.0 C330.1,381.5 329.5,378.8 329.5,377.0 C329.5,375.2 329.9,373.2 331.0,372.0Z" fill="#6cbd63"/>
</g>
<g fill="none" stroke="#111" stroke-linecap="round">
<path d="M329.0,314.0 C329.7,313.3 331.2,310.8 333.0,309.9 C334.8,309.0 337.5,308.6 339.7,308.5 C341.9,308.4 343.9,308.8 346.3,309.1 C348.7,309.5 351.8,310.3 354.0,310.6 C356.2,310.9 358.5,310.9 359.4,311.0" stroke-width="2.1"/>
<path d="M399.8,323.2 C400.4,324.0 402.4,326.3 403.3,328.0 C404.2,329.7 404.8,331.8 405.1,333.5 C405.4,335.2 405.3,337.7 405.3,338.5" stroke-width="2.0"/>
<path d="M407.2,343.5 C408.0,344.5 410.6,347.3 411.8,349.5 C413.0,351.7 413.7,354.1 414.2,356.5 C414.7,358.9 414.9,361.6 414.9,364.0 C414.9,366.4 414.6,368.8 414.3,371.0 C414.0,373.2 413.3,376.0 413.1,377.0" stroke-width="2.0"/>
<path d="M411.5,386.0 C411.8,387.0 412.8,389.8 413.2,392.0 C413.6,394.2 413.7,396.8 413.6,399.0 C413.5,401.2 413.0,403.2 412.6,405.0 C412.2,406.8 411.3,408.8 411.0,409.5" stroke-width="2.0"/>
<path d="M318.2,340.9 C317.0,341.2 313.0,341.9 311.2,342.8 C309.4,343.7 308.2,345.1 307.4,346.5 C306.6,347.9 306.3,350.1 306.3,351.5 C306.3,352.9 307.1,354.4 307.2,355.0" stroke-width="2.3"/>
<path d="M310.3,370.5 C309.9,371.5 308.3,374.0 307.8,376.5 C307.3,379.0 307.0,382.6 307.4,385.5 C307.8,388.4 309.3,391.6 310.4,394.0 C311.5,396.4 313.2,398.8 313.8,399.8" stroke-width="2.1"/>
<path d="M333.2,423.6 C333.8,424.4 335.3,427.3 337.0,428.4 C338.7,429.5 341.3,430.0 343.5,430.2 C345.7,430.4 348.1,430.2 350.0,429.8 C351.9,429.4 354.0,428.2 354.8,427.9" stroke-width="2.1"/>
<path d="M357.6,414.1 C357.2,414.5 355.9,415.7 355.3,416.6 C354.8,417.5 354.5,418.7 354.3,419.5 C354.1,420.3 354.2,421.0 354.2,421.3" stroke-width="1.8"/>
<path d="M327.8,359.5 C328.2,360.2 329.4,362.8 330.5,364.0 C331.6,365.2 333.0,366.1 334.5,366.6 C336.0,367.1 338.7,367.1 339.5,367.2" stroke-width="1.9"/>
<path d="M329.0,403.8 C329.7,403.7 331.8,403.7 333.0,403.4 C334.2,403.1 335.6,402.4 336.5,401.8 C337.4,401.2 338.2,399.9 338.6,399.5" stroke-width="1.9"/>
<path d="M398.5,372.5 C398.3,373.8 397.9,377.7 397.2,380.0 C396.5,382.3 395.8,384.6 394.5,386.5 C393.2,388.4 391.2,390.4 389.5,391.5 C387.8,392.6 385.8,392.9 384.0,393.3 C382.2,393.7 379.8,393.6 379.0,393.7" stroke-width="2.0"/>
</g>
<g fill="none" stroke-linecap="round">
<path d="M323.5,340.8 C324.2,341.0 326.4,341.9 328.0,342.0 C329.6,342.1 332.2,341.6 333.0,341.5" stroke="#2f9a45" stroke-width="1.1"/>
<path d="M357.0,335.0 C357.6,334.2 359.0,331.3 360.5,330.0 C362.0,328.7 364.1,327.7 366.0,327.0 C367.9,326.3 371.0,326.2 372.0,326.0" stroke="#23903e" stroke-width="1.2"/>
</g></g>
<text class="lb" font-size="16.50" transform="translate(32.10,471.29) scale(0.9300,1)">0</text>
<text class="lb" font-size="16.50" transform="translate(31.87,412.25) scale(0.9300,1)">5</text>
<text class="lb" font-size="16.50" transform="translate(23.58,353.38) scale(0.9300,1)" x="9.18">0</text><text class="lb one" font-size="15.70" transform="translate(23.58,353.38) scale(0.9300,1)" x="-0.43">1</text>
<text class="lb" font-size="16.50" transform="translate(23.35,294.34) scale(0.9300,1)" x="9.18">5</text><text class="lb one" font-size="15.70" transform="translate(23.35,294.34) scale(0.9300,1)" x="-0.43">1</text>
<text class="lb" font-size="16.50" transform="translate(23.58,235.46) scale(0.9300,1)">20</text>
<text class="lb" font-size="16.50" transform="translate(23.35,176.51) scale(0.9300,1)">25</text>
<text class="lb" font-size="16.50" transform="translate(23.58,117.55) scale(0.9300,1)">30</text>
<text class="lb" font-size="16.50" transform="translate(23.35,58.59) scale(0.9300,1)">35</text>
<text class="lb" font-size="16.50" transform="translate(44.08,497.59) scale(0.9021,1)">20</text>
<text class="lb" font-size="16.50" transform="translate(124.65,497.59) scale(0.9021,1)">25</text>
<text class="lb" font-size="16.50" transform="translate(205.52,497.59) scale(0.9021,1)">30</text>
<text class="lb" font-size="16.50" transform="translate(286.10,497.59) scale(0.9021,1)">35</text>
<text class="lb" font-size="16.50" transform="translate(366.97,497.59) scale(0.9021,1)">40</text>
<text class="lb" font-size="16.50" transform="translate(447.54,497.51) scale(0.9021,1)">45</text>
<text class="lb" font-size="16.50" transform="translate(528.23,497.59) scale(0.9021,1)">50</text>
<text class="lb" font-size="16.50" transform="translate(608.80,497.51) scale(0.9021,1)">55</text>
<text class="lb" font-size="16.50" transform="translate(627.91,162.59) scale(0.9300,1)">8.0</text>
<text class="lb" font-size="16.50" transform="translate(627.87,237.29) scale(0.9300,1)">6.0</text>
<text class="lb" font-size="16.50" transform="translate(628.03,316.29) scale(0.9300,1)">4.0</text>
<text class="lb" font-size="16.50" transform="translate(627.87,391.39) scale(0.9300,1)">2.0</text>
<text class="lb" font-size="16.50" transform="translate(627.84,470.89) scale(0.9300,1)">0.0</text>
<text class="lb" font-size="16.50" transform="translate(620.88,83.70) scale(0.9949,1)" x="9.18">0.0</text><text class="lb one" font-size="15.70" transform="translate(620.88,83.70) scale(0.9949,1)" x="-0.43">1</text>
<text class="lb" font-size="17.00" transform="translate(91.60,40.50) scale(0.9577,1)">-5.0</text>
<text class="lb" font-size="17.00" transform="translate(231.38,43.80) scale(0.9789,1)">0.0</text>
<text class="lb" font-size="17.00" transform="translate(381.25,40.80) scale(0.9848,1)">5.0</text>
<text class="lb" font-size="16.50" transform="translate(520.09,43.60) scale(0.9245,1)" x="9.18">0.0</text><text class="lb one" font-size="15.70" transform="translate(520.09,43.60) scale(0.9245,1)" x="-0.43">1</text>
<text class="lb" font-size="16.50" transform="translate(263.80,13.90) scale(0.9294,1)">Temperature (</text>
<text class="lb sup" font-size="9.20" transform="translate(366.15,5.90) scale(1.0870,1)">o</text>
<text class="lb" font-size="16.50" transform="translate(372.44,13.90) scale(0.9232,1)">C)</text>
<text class="lb" font-size="16.30" transform="translate(273.40,529.50) scale(0.9389,1)">Temperature (</text>
<text class="lb sup" font-size="9.20" transform="translate(375.88,520.40) scale(1.0049,1)">o</text>
<text class="lb" font-size="16.30" transform="translate(381.66,529.50) scale(0.9387,1)">F)</text>
<text class="lb" font-size="16.50" transform="translate(13.60,297.30) rotate(-90)" x="-1.07">Height (ft)</text>
<text class="lb" font-size="16.50" transform="translate(680.20,290.10) rotate(-90)" x="-1.07">Height (m)</text>
</svg>
</body></html>
